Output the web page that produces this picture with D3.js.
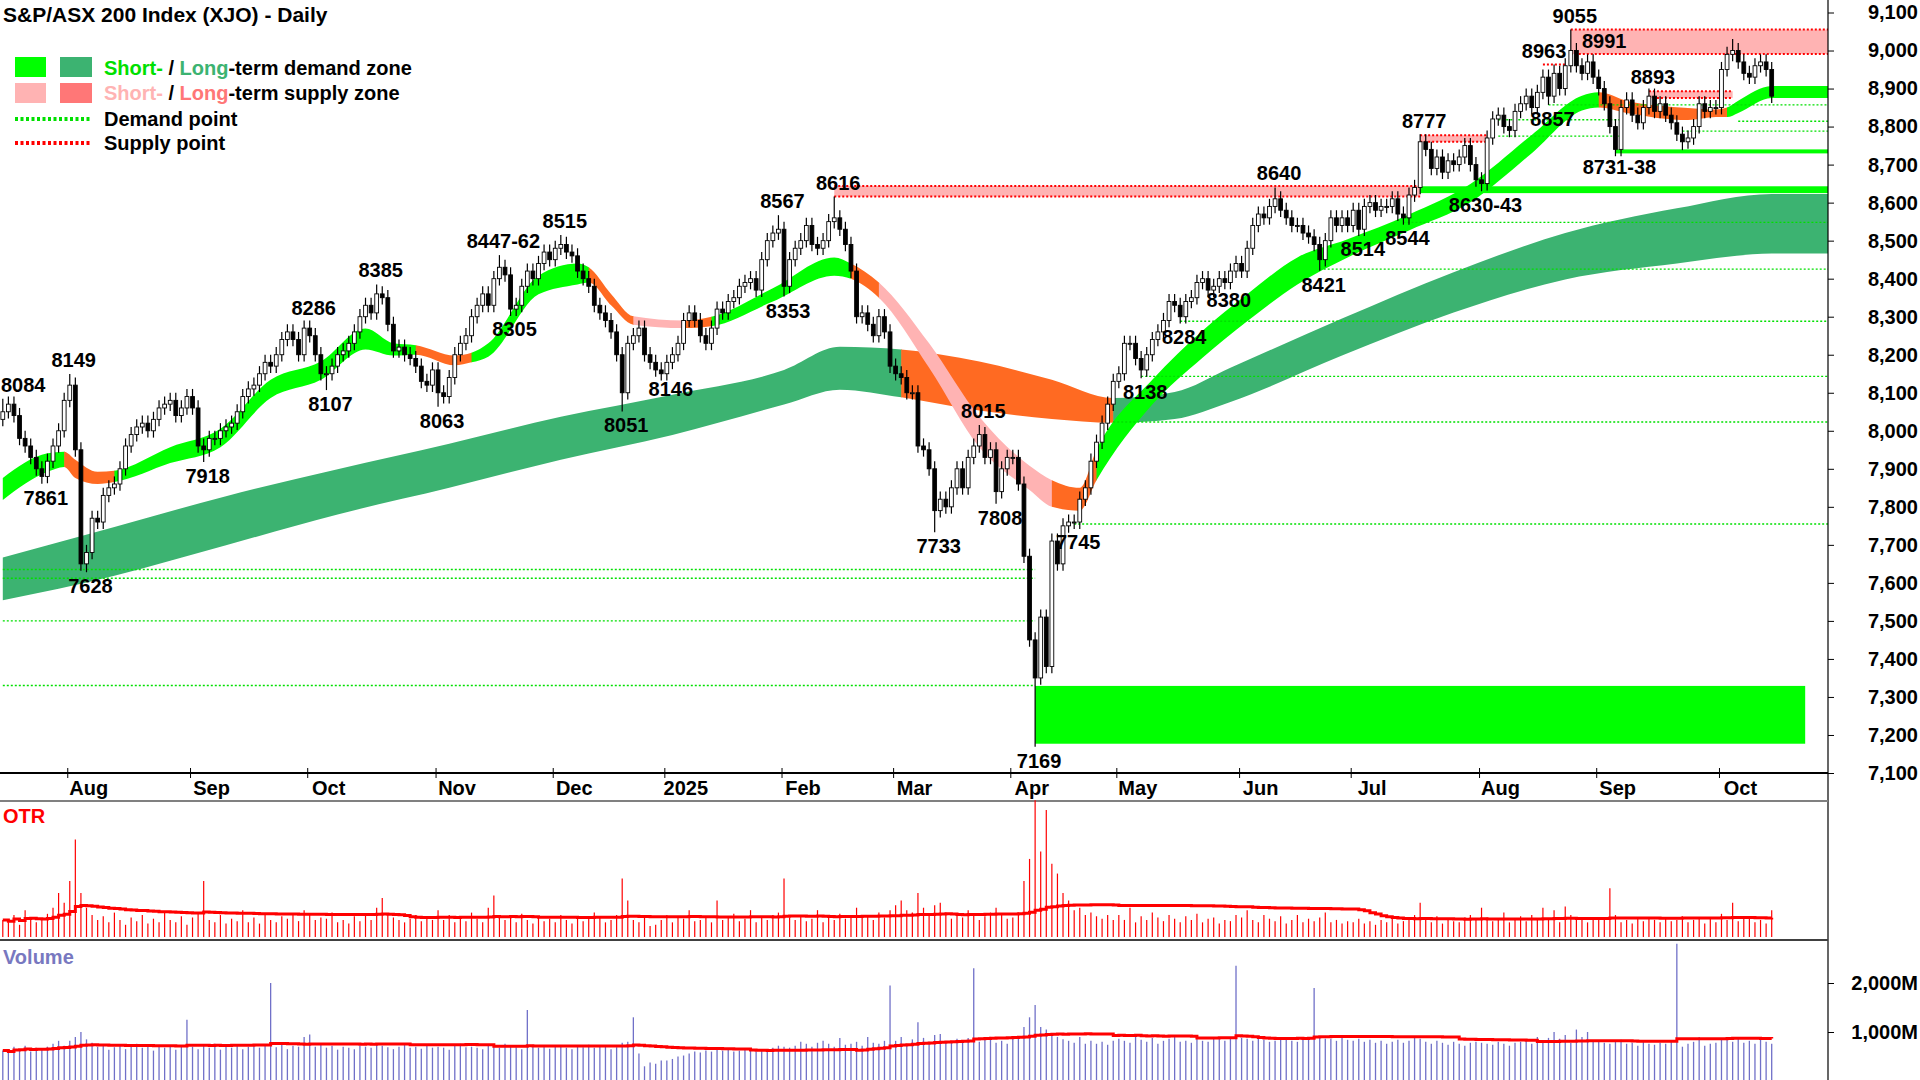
<!DOCTYPE html>
<html><head><meta charset="utf-8">
<script src="https://cdn.jsdelivr.net/npm/d3@7"></script>
<style>body{margin:0;background:#fff}svg{display:block}</style>
</head><body><svg id="c" width="1920" height="1080"></svg>
<script>
// ---------- DATA ----------
const holidays = ["2024-12-25","2024-12-26","2025-01-01","2025-01-27","2025-04-18","2025-04-21","2025-04-25","2025-06-09"];
const closes = [
 8050,8070,8040,7980,7960,7930,7900,7880,7920,7960,8000,8080,
 8120,7950,7650,7680,7770,7760,7830,7850,7860,7900,7960,7990,8010,8020,8000,8030,8060,8070,8080,8040,8060,8090,
 8060,7960,7950,7980,7980,8000,8010,8020,8050,8090,8110,8120,8150,8180,8170,8200,8240,8260,8240,8200,8270,
 8250,8200,8150,8150,8170,8200,8210,8230,8260,8300,8330,8310,8360,8350,8280,8210,8220,8200,8190,8170,8130,8120,8160,
 8100,8090,8140,8200,8230,8250,8300,8330,8360,8330,8400,8430,8410,8320,8330,8380,8420,8400,8440,8470,8450,
 8480,8490,8470,8460,8420,8400,8380,8330,8310,8290,8260,8200,8100,8230,8250,8270,8200,8180,8160,8150,
 8180,8200,8230,8290,8310,8290,8250,8230,8270,8320,8310,8340,8350,8380,8390,8400,8370,8450,8500,8520,8530,
 8380,8450,8480,8500,8540,8490,8480,8500,8550,8560,8530,8490,8420,8300,8310,8280,8250,8300,8260,8170,
 8150,8140,8100,8100,7960,7950,7900,7790,7820,7800,7850,7900,7850,7930,7960,7990,7930,7950,7840,7900,7930,
 7930,7860,7670,7450,7350,7510,7380,7710,7650,7750,7760,7760,7820,7850,7920,7970,8020,8070,8130,
 8150,8230,8230,8190,8160,8200,8240,8260,8290,8340,8330,8300,8340,8350,8390,8400,8370,8380,8400,8390,8420,8440,
 8420,8480,8540,8570,8560,8590,8610,8580,8560,8540,8540,8520,8510,8490,8450,8500,8560,8540,8560,8540,
 8580,8530,8590,8600,8580,8590,8590,8610,8570,8560,8620,8640,8760,8740,8690,8720,8680,8710,8700,8720,8750,8700,8660,
 8650,8770,8820,8830,8800,8790,8840,8860,8880,8850,8890,8930,8880,8940,8900,8960,9000,8960,8940,8970,8930,
 8900,8860,8800,8740,8850,8870,8830,8810,8850,8880,8840,8860,8830,8810,8780,8760,8770,8800,8860,8840,8850,8850,
 8950,8990,9000,8970,8940,8930,8960,8970,8950,8880];
// [text, index, price, above/below, horizontal nudge]
const swingLabels = [
 ["8084",0,8084,"a",0],["7861",7,7861,"b",4],["8149",12,8149,"a",4],["7628",15,7628,"b",4],["7918",36,7918,"b",4],
 ["8286",55,8286,"a",4],["8107",58,8107,"b",4],["8385",67,8385,"a",4],["8063",78,8063,"b",4],["8447-62",89,8462,"a",4],
 ["8305",91,8305,"b",4],["8515",100,8515,"a",4],["8051",111,8051,"b",4],["8146",119,8146,"b",4],["8567",139,8567,"a",4],
 ["8353",140,8353,"b",4],["8616",149,8616,"a",4],["7733",167,7733,"b",4],["8015",175,8015,"a",4],["7808",178,7808,"b",4],
 ["7169",185,7169,"b",4],["7745",192,7745,"b",4],["8138",204,8138,"b",4],["8284",211,8284,"b",4],["8380",219,8380,"b",4],
 ["8640",228,8640,"a",4],["8421",236,8421,"b",4],["8514",243,8514,"b",4],["8544",251,8544,"b",4],["8777",254,8777,"a",4],
 ["8630-43",265,8630,"b",4],["8857",277,8857,"b",4],["8963",278,8963,"a",-10],["9055",281,9055,"a",4],
 ["8893",295,8893,"a",4],["8731-38",289,8731,"b",4],["",301,8738,"b",0],["",310,9030,"a",0]];
const longBand = [[0,7667,7554,"g"],[20,7747,7619,"g"],[40,7828,7699,"g"],[60,7899,7780,"g"],[80,7966,7850,"g"],
 [100,8037,7924,"g"],[120,8095,7989,"g"],[140,8160,8069,"g"],[150,8221,8108,"g"],[161,8214,8088,"o"],[175,8182,8053,"o"],
 [188,8134,8031,"o"],[199,8086,8021,"g"],[210,8102,8031,"g"],[220,8166,8076,"g"],[240,8295,8198,"g"],[260,8417,8311,"g"],
 [280,8520,8398,"g"],[300,8585,8440,"g"],[317,8623,8466,"g"],[328,8623,8466,"g"]];
const shortBand = [[0,7876,7818,"g"],[8,7941,7892,"g"],[11,7945,7905,"o"],[13,7924,7876,"o"],[17,7892,7860,"o"],[20,7895,7865,"g"],
 [30,7957,7915,"g"],[39,8005,7957,"g"],[48,8134,8086,"g"],[57,8182,8134,"g"],[65,8269,8214,"g"],[70,8230,8198,"g"],
 [74,8225,8200,"o"],[81,8198,8172,"o"],[84,8205,8180,"g"],[87,8230,8195,"g"],[96,8408,8359,"g"],[103,8440,8385,"g"],
 [105,8430,8390,"o"],[109,8360,8330,"o"],[113,8301,8279,"p"],[122,8290,8270,"o"],[127,8300,8275,"g"],[138,8375,8340,"g"],
 [149,8456,8408,"g"],[152,8440,8400,"o"],[157,8390,8350,"p"],[166,8230,8166,"p"],[175,8037,7957,"p"],[184,7908,7844,"p"],
 [188,7870,7800,"o"],[193,7850,7790,"o"],[196,7950,7870,"g"],[206,8134,8069,"g"],[215,8263,8192,"g"],[223,8359,8288,"g"],
 [232,8456,8385,"g"],[241,8504,8456,"g"],[252,8569,8527,"g"],[263,8649,8601,"g"],[274,8778,8730,"g"],[283,8881,8842,"g"],
 [286,8890,8850,"o"],[291,8868,8836,"o"],[302,8849,8817,"o"],[307,8845,8825,"o"],[309,8850,8825,"g"],[311,8868,8836,"g"],
 [317,8907,8875,"g"],[328,8907,8875,"g"]];
const supplyZones = [[149,254,8644,8616],[254,266,8777,8760],[281,328,9055,8991],[295,310,8893,8875]];
const supplyPoints = [[149,254,8644],[149,254,8616],[254,266,8777],[254,266,8760],[281,328,9055],[281,328,8991],
 [276,280,8963],[295,310,8893],[295,310,8875]];
const demandZones = [[185,323,7329,7177],[254,328,8643,8625],[289,328,8740,8733]];
const demandPoints = [[277,328,8857],[311,328,8814],[268,290,8775],[268,290,8818],[251,328,8548],[236,328,8425],
 [211,328,8288],[204,328,8143],[199,328,8023],[192,328,7755],[0,185,7635],[0,185,7612],[0,185,7500],[0,185,7330],[301,328,8788]];
const otr = [
 70,60,90,50,110,80,60,70,95,120,180,140,
 230,400,180,120,90,70,85,60,100,70,50,80,65,90,55,75,60,100,70,60,85,50,
 80,95,230,70,60,90,55,75,65,110,60,80,55,95,70,60,85,75,90,65,110,
 90,70,80,75,100,60,70,55,85,65,90,70,120,160,95,80,70,60,75,90,65,80,70,
 110,70,90,60,80,65,100,75,60,120,170,90,70,85,60,95,70,55,80,65,75,
 60,90,70,55,80,65,75,100,85,60,70,90,240,150,70,60,80,45,50,70,
 90,60,80,75,110,65,70,85,60,150,70,80,95,65,75,110,60,85,70,90,100,
 240,80,70,90,65,75,110,60,85,70,95,75,80,120,90,85,70,100,80,110,
 130,150,110,100,180,120,90,130,140,100,75,90,80,110,95,70,85,100,120,90,75,
 80,100,230,320,560,350,520,300,260,180,150,110,120,90,100,85,75,90,70,
 90,70,120,60,85,70,100,80,65,90,75,60,85,70,95,60,75,80,55,70,65,90,
 80,110,70,60,90,75,65,85,55,70,90,60,75,65,80,100,60,70,55,65,
 60,75,55,65,50,70,60,80,55,65,70,90,140,75,60,85,55,70,65,60,80,90,75,
 120,80,65,70,100,60,75,85,65,90,70,120,75,110,60,125,90,70,80,60,75,
 70,75,200,90,60,70,55,75,65,80,70,60,75,65,70,85,60,70,75,55,80,60,
 95,70,140,65,80,75,60,70,55,110];
const volume = [
 620,580,700,650,720,600,680,640,700,760,820,720,
 820,900,1000,850,780,700,720,640,690,720,650,700,760,680,740,620,700,680,720,640,700,1250,
 700,650,720,680,760,640,700,680,720,650,700,740,680,720,2000,690,760,650,720,700,900,
 950,700,760,680,720,640,700,680,650,720,700,680,760,720,690,650,700,740,680,700,660,720,680,
 700,680,640,720,760,690,700,680,650,720,700,680,760,720,690,650,1450,740,680,700,660,
 700,720,680,650,700,690,740,680,700,720,650,690,780,800,1300,560,300,380,350,420,
 420,450,500,520,560,600,580,620,600,650,620,640,600,620,650,630,600,640,620,680,720,
 700,680,720,800,760,700,780,820,760,700,880,740,760,800,720,900,780,760,820,1950,
 820,900,760,850,1200,880,800,940,960,780,820,860,780,880,2300,800,840,900,780,820,760,
 860,900,1100,1300,1550,1100,1050,980,900,850,820,780,900,760,820,760,800,740,820,
 860,820,780,900,840,800,880,760,820,860,900,800,820,780,860,820,800,880,900,820,860,2350,
 880,860,820,900,840,800,820,860,900,820,800,880,860,1900,900,860,860,820,880,840,
 820,860,800,840,780,820,760,800,840,780,820,900,860,800,760,820,780,740,800,760,720,780,800,
 780,760,740,800,760,720,780,800,840,760,900,820,880,1000,860,940,780,1050,900,1000,800,
 820,780,760,800,840,760,780,720,800,760,740,780,760,820,2800,700,760,800,900,720,760,780,
 850,900,800,860,780,820,760,840,800,760];
const priceTicks = [7100,7200,7300,7400,7500,7600,7700,7800,7900,8000,8100,8200,8300,8400,8500,8600,8700,8800,8900,9000,9100];
const volTicks = [1000,2000];

// ---------- DATES ----------
const dates = [];
for (let d = new Date(Date.UTC(2024,6,16)); dates.length < closes.length; d.setUTCDate(d.getUTCDate()+1)) {
  const wd = d.getUTCDay(), s = d.toISOString().slice(0,10);
  if (wd===0||wd===6||holidays.includes(s)) continue;
  dates.push(new Date(d));
}

// ---------- LAYOUT ----------
const svg = d3.select("#c");
const RIGHT = 1828;
const x = d3.scaleLinear().domain([0,317]).range([2.8,1771.7]);
const y = d3.scaleLinear().domain([7100,9100]).range([773,12.5]);
const yO = d3.scaleLinear().domain([0,500]).range([937,815]);
const yV = d3.scaleLinear().domain([0,1000]).range([1081,1032]);
const FONT = "'Liberation Sans',Arial,sans-serif";
const FS = 20;
const col = {g:"#00ff00",o:"#ff6a22",p:"#ffb3b3",lg:"#3cb371",lo:"#ff6a22"};

const defs = svg.append("defs");
defs.append("clipPath").attr("id","pc").append("rect").attr("x",0).attr("y",0).attr("width",RIGHT).attr("height",773);
const plot = svg.append("g").attr("clip-path","url(#pc)");

let clipId = 0;
function drawBand(arr, colorFn){
  const path = d3.area().x(d=>x(d[0])).y0(d=>y(d[1])).y1(d=>y(d[2])).curve(d3.curveMonotoneX)(arr);
  // runs of equal state
  const runs = [];
  arr.forEach((p,i)=>{ if (!runs.length || runs[runs.length-1].s!==p[3]) runs.push({s:p[3],a:i}); });
  runs.forEach((r,k)=>{
    const x0 = r.a===0 ? -10 : x(arr[r.a][0]);
    const x1 = k===runs.length-1 ? RIGHT+10 : x(arr[runs[k+1].a][0])+0.6;
    const id = "bc"+(clipId++);
    defs.append("clipPath").attr("id",id).append("rect").attr("x",x0).attr("y",0).attr("width",x1-x0).attr("height",800);
    plot.append("path").attr("d",path).attr("fill",colorFn(r.s)).attr("clip-path",`url(#${id})`);
  });
}
drawBand(longBand, s=> s==="g"?col.lg:col.lo);
drawBand(shortBand, s=> col[s]);

supplyZones.forEach(z=>plot.append("rect").attr("x",x(z[0])).attr("width",x(z[1])-x(z[0]))
  .attr("y",y(z[2])).attr("height",y(z[3])-y(z[2])).attr("fill","#ffb3b3"));
demandZones.forEach(z=>plot.append("rect").attr("x",x(z[0])).attr("width",x(z[1])-x(z[0]))
  .attr("y",y(z[2])).attr("height",Math.max(4,y(z[3])-y(z[2]))).attr("fill","#00ff00"));
supplyPoints.forEach(p=>plot.append("line").attr("x1",x(p[0])).attr("x2",x(p[1])).attr("y1",y(p[2])).attr("y2",y(p[2]))
  .attr("stroke","#ff0000").attr("stroke-width",2).attr("stroke-dasharray","2,2"));
demandPoints.forEach(p=>plot.append("line").attr("x1",x(p[0])).attr("x2",x(p[1])).attr("y1",y(p[2])).attr("y2",y(p[2]))
  .attr("stroke","#00e000").attr("stroke-width",1.4).attr("stroke-dasharray","2,2"));

// candles
const ext = {}; swingLabels.forEach(l=>{ext[l[1]+l[3]]=l[2];});
const candles = closes.map((c,i)=>{
  const o = i===0?8030:closes[i-1];
  let h = Math.max(o,c)+20, l = Math.min(o,c)-18;
  if (ext[i+"a"]!==undefined) h = Math.max(h,ext[i+"a"]);
  if (ext[i+"b"]!==undefined) l = Math.min(l,ext[i+"b"]);
  return {i,o,c,h,l};
});
const cg = plot.append("g");
candles.forEach(d=>{
  cg.append("line").attr("x1",x(d.i)).attr("x2",x(d.i)).attr("y1",y(d.h)).attr("y2",y(d.l)).attr("stroke","#000").attr("stroke-width",1.2);
  const top=y(Math.max(d.o,d.c)), bot=y(Math.min(d.o,d.c));
  cg.append("rect").attr("x",x(d.i)-1.9).attr("width",3.8).attr("y",top).attr("height",Math.max(1,bot-top))
    .attr("fill",d.c>=d.o?"#fff":"#000").attr("stroke","#000").attr("stroke-width",0.9);
});

swingLabels.filter(l=>l[0]).forEach(l=>{
  const first = l[1]===0;
  plot.append("text").attr("x",first?1:x(l[1])+l[4]).attr("y", l[3]==="a"? y(l[2])-7 : y(l[2])+21)
    .attr("text-anchor",first?"start":"middle").attr("font-family",FONT).attr("font-weight","bold").attr("font-size",FS).text(l[0]);
});
plot.append("text").attr("x",x(283)).attr("y",y(8991)-6).attr("text-anchor","start").attr("font-family",FONT)
  .attr("font-weight","bold").attr("font-size",FS).text("8991");

svg.append("line").attr("x1",RIGHT).attr("x2",RIGHT).attr("y1",0).attr("y2",1080).attr("stroke","#000").attr("stroke-width",1.2);
[[773,"#000"],[801,"#808080"],[940,"#404040"]].forEach(l=>svg.append("line").attr("x1",0).attr("x2",RIGHT).attr("y1",l[0]).attr("y2",l[0]).attr("stroke",l[1]).attr("stroke-width",2));
const ya = svg.append("g").attr("transform",`translate(${RIGHT},0)`)
  .call(d3.axisRight(y).tickValues(priceTicks).tickSize(6).tickFormat(d3.format(",")));
ya.select(".domain").remove();
ya.selectAll("text").attr("x",90).attr("text-anchor","end").attr("font-family",FONT).attr("font-weight","bold").attr("font-size",FS).attr("fill","#000");
const monthStarts = dates.map((d,i)=>({d,i})).filter((o,k)=>k>0 && o.d.getUTCMonth()!==dates[k-1].getUTCMonth());
const xa = svg.append("g");
monthStarts.forEach(m=>{
  xa.append("line").attr("x1",x(m.i)-2).attr("x2",x(m.i)-2).attr("y1",768).attr("y2",778).attr("stroke","#000");
  const lbl = m.d.getUTCMonth()===0 ? String(m.d.getUTCFullYear()) : d3.utcFormat("%b")(m.d);
  xa.append("text").attr("x",x(m.i)+19).attr("y",795).attr("text-anchor","middle").attr("font-family",FONT)
    .attr("font-weight","bold").attr("font-size",FS).text(lbl);
});

const ma = (arr,n)=>arr.map((v,i)=>d3.mean(arr.slice(Math.max(0,i-n+1),i+1)));
const og = svg.append("g");
otr.forEach((v,i)=>og.append("line").attr("x1",x(i)).attr("x2",x(i)).attr("y1",yO(0)).attr("y2",yO(v)).attr("stroke","#ff0000").attr("stroke-width",1.2));
og.append("path").attr("d",d3.line().x((d,i)=>x(i)).y(d=>yO(d)).curve(d3.curveStepAfter)(ma(otr,60)))
  .attr("fill","none").attr("stroke","#ff0000").attr("stroke-width",3);
og.append("text").attr("x",3).attr("y",823).attr("font-family",FONT).attr("font-weight","bold").attr("font-size",FS).attr("fill","#ff0000").text("OTR");

const vg = svg.append("g");
volume.forEach((v,i)=>vg.append("line").attr("x1",x(i)).attr("x2",x(i)).attr("y1",yV(0)).attr("y2",yV(v)).attr("stroke","#7070c8").attr("stroke-width",1.3));
vg.append("path").attr("d",d3.line().x((d,i)=>x(i)).y(d=>yV(d)).curve(d3.curveStepAfter)(ma(volume,40)))
  .attr("fill","none").attr("stroke","#ff0000").attr("stroke-width",3);
vg.append("text").attr("x",3).attr("y",964).attr("font-family",FONT).attr("font-weight","bold").attr("font-size",FS).attr("fill","#7878c0").text("Volume");
const va = svg.append("g").attr("transform",`translate(${RIGHT},0)`)
  .call(d3.axisRight(yV).tickValues(volTicks).tickSize(6).tickFormat(d=>d3.format(",")(d)+"M"));
va.select(".domain").remove();
va.selectAll("text").attr("x",90).attr("text-anchor","end").attr("font-family",FONT).attr("font-weight","bold").attr("font-size",FS).attr("fill","#000");

svg.append("text").attr("x",3).attr("y",22).attr("font-family",FONT).attr("font-weight","bold").attr("font-size",21).text("S&P/ASX 200 Index (XJO) - Daily");
const lg = svg.append("g").attr("font-family",FONT).attr("font-weight","bold").attr("font-size",FS);
lg.append("rect").attr("x",15).attr("y",57).attr("width",31).attr("height",20).attr("fill","#00ff00");
lg.append("rect").attr("x",60).attr("y",57).attr("width",32).attr("height",20).attr("fill",col.lg);
lg.append("rect").attr("x",15).attr("y",83).attr("width",31).attr("height",20).attr("fill","#ffb3b3");
lg.append("rect").attr("x",60).attr("y",83).attr("width",32).attr("height",20).attr("fill","#ff7777");
lg.append("line").attr("x1",15).attr("x2",92).attr("y1",119).attr("y2",119).attr("stroke","#00e000").attr("stroke-width",4).attr("stroke-dasharray","3,2.5");
lg.append("line").attr("x1",15).attr("x2",92).attr("y1",143).attr("y2",143).attr("stroke","#ff0000").attr("stroke-width",4).attr("stroke-dasharray","3,2.5");
const t1 = lg.append("text").attr("x",104).attr("y",75);
t1.append("tspan").attr("fill","#00e000").text("Short-");t1.append("tspan").text(" / ");
t1.append("tspan").attr("fill",col.lg).text("Long");t1.append("tspan").text("-term demand zone");
const t2 = lg.append("text").attr("x",104).attr("y",100);
t2.append("tspan").attr("fill","#ffb3b3").text("Short-");t2.append("tspan").text(" / ");
t2.append("tspan").attr("fill","#ff7777").text("Long");t2.append("tspan").text("-term supply zone");
lg.append("text").attr("x",104).attr("y",126).text("Demand point");
lg.append("text").attr("x",104).attr("y",150).text("Supply point");
</script></body></html>
